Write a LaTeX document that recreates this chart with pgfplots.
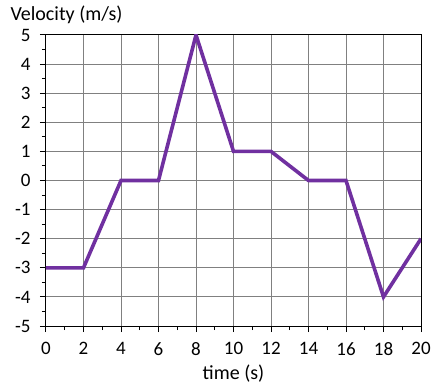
\documentclass[border=0pt]{standalone}
\usepackage{pgfplots}
\pgfplotsset{compat=1.18}
\usepackage{fontspec}
\setmainfont{Carlito}
\definecolor{vpurple}{HTML}{7030A0}
\begin{document}
\begin{tikzpicture}
\useasboundingbox (-46pt,-60pt) rectangle (390pt,326pt);
\begin{axis}[
  at={(0,0)}, anchor=south west,
  scale only axis, width=375pt, height=291pt,
  xmin=0, xmax=20, ymin=-5, ymax=5,
  xtick={0,2,...,20}, ytick={-5,-4,...,5},
  minor x tick num=1, minor y tick num=1,
  tick align=outside,
  major tick length=6pt, minor tick length=4pt,
  every tick/.style={black, line width=1pt},
  grid=major,
  major grid style={draw=black!50, line width=1pt},
  axis line style={black, line width=1pt},
  ticklabel style={font=\fontsize{19}{22}\selectfont},
  /pgf/number format/assume math mode=true,
  xticklabel style={yshift=-7pt},
  yticklabel style={xshift=-6pt},
  xtick pos=bottom, ytick pos=left,
]
\addplot[vpurple, line width=3.6pt, line join=miter] coordinates {
(0,-3) (2,-3) (4,0) (6,0) (8,5) (10,1) (12,1) (14,0) (16,0) (18,-4) (20,-2)
};
\end{axis}
\node[anchor=west, font=\fontsize{20}{24}\selectfont] at (-39pt,311pt) {Velocity (m/s)};
\node[font=\fontsize{20}{24}\selectfont] at (187.5pt,-48pt) {time (s)};
\end{tikzpicture}
\end{document}
